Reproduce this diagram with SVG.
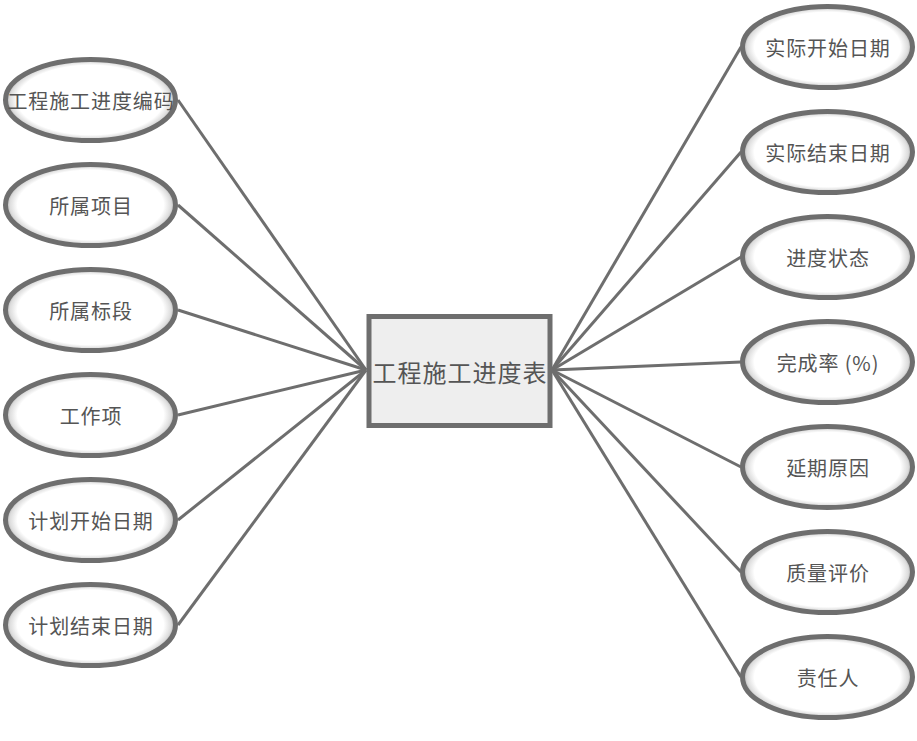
<svg xmlns="http://www.w3.org/2000/svg" width="917" height="741" viewBox="0 0 917 741">
<defs>
<radialGradient id="glow" cx="0.5" cy="0.5" r="0.5">
<stop offset="0" stop-color="#ffffff"/>
<stop offset="0.86" stop-color="#ffffff"/>
<stop offset="0.95" stop-color="#dcdcdc"/>
<stop offset="1" stop-color="#a0a0a0"/>
</radialGradient>
</defs>
<style>
.attr{fill:url(#glow);stroke:#6e6e6e;stroke-width:5}
.ent{fill:#eeeeee;stroke:#6e6e6e;stroke-width:5}
.lbl{font-family:"Noto Sans CJK SC","Microsoft YaHei",sans-serif;font-size:20px;letter-spacing:0.9px;fill:#555555;text-anchor:middle;dominant-baseline:central}
.title{font-size:24px;letter-spacing:1px}
.conn line{stroke:#6e6e6e;stroke-width:3;fill:none}
</style>
<rect width="917" height="741" fill="#ffffff"/>
<g id="connectors" class="conn">
<line x1="366" y1="370" x2="178" y2="100"/>
<line x1="366" y1="370" x2="178" y2="205"/>
<line x1="366" y1="370" x2="178" y2="310"/>
<line x1="366" y1="370" x2="178" y2="415"/>
<line x1="366" y1="370" x2="178" y2="520"/>
<line x1="366" y1="370" x2="178" y2="625"/>
<line x1="552" y1="370" x2="741" y2="47"/>
<line x1="552" y1="370" x2="741" y2="152"/>
<line x1="552" y1="370" x2="741" y2="257"/>
<line x1="552" y1="370" x2="741" y2="362"/>
<line x1="552" y1="370" x2="741" y2="467"/>
<line x1="552" y1="370" x2="741" y2="572"/>
<line x1="552" y1="370" x2="741" y2="677"/>
</g>
<g id="entity">
<rect class="ent" x="369" y="316.5" width="181" height="109"/>
<text class="lbl title" x="460" y="371">工程施工进度表</text>
</g>
<g id="a1"><ellipse class="attr" cx="90.5" cy="100" rx="85" ry="40.5"/><text class="lbl" x="91" y="100">工程施工进度编码</text></g>
<g id="a2"><ellipse class="attr" cx="90.5" cy="205" rx="85" ry="40.5"/><text class="lbl" x="91" y="205">所属项目</text></g>
<g id="a3"><ellipse class="attr" cx="90.5" cy="310" rx="85" ry="40.5"/><text class="lbl" x="91" y="310">所属标段</text></g>
<g id="a4"><ellipse class="attr" cx="90.5" cy="415" rx="85" ry="40.5"/><text class="lbl" x="91" y="415">工作项</text></g>
<g id="a5"><ellipse class="attr" cx="90.5" cy="520" rx="85" ry="40.5"/><text class="lbl" x="91" y="520">计划开始日期</text></g>
<g id="a6"><ellipse class="attr" cx="90.5" cy="625" rx="85" ry="40.5"/><text class="lbl" x="91" y="625">计划结束日期</text></g>
<g id="b1"><ellipse class="attr" cx="827.5" cy="47" rx="85" ry="40.5"/><text class="lbl" x="828" y="47">实际开始日期</text></g>
<g id="b2"><ellipse class="attr" cx="827.5" cy="152" rx="85" ry="40.5"/><text class="lbl" x="828" y="152">实际结束日期</text></g>
<g id="b3"><ellipse class="attr" cx="827.5" cy="257" rx="85" ry="40.5"/><text class="lbl" x="828" y="257">进度状态</text></g>
<g id="b4"><ellipse class="attr" cx="827.5" cy="362" rx="85" ry="40.5"/><text class="lbl" x="828" y="362">完成率 (%)</text></g>
<g id="b5"><ellipse class="attr" cx="827.5" cy="467" rx="85" ry="40.5"/><text class="lbl" x="828" y="467">延期原因</text></g>
<g id="b6"><ellipse class="attr" cx="827.5" cy="572" rx="85" ry="40.5"/><text class="lbl" x="828" y="572">质量评价</text></g>
<g id="b7"><ellipse class="attr" cx="827.5" cy="677" rx="85" ry="40.5"/><text class="lbl" x="828" y="677">责任人</text></g>
</svg>
